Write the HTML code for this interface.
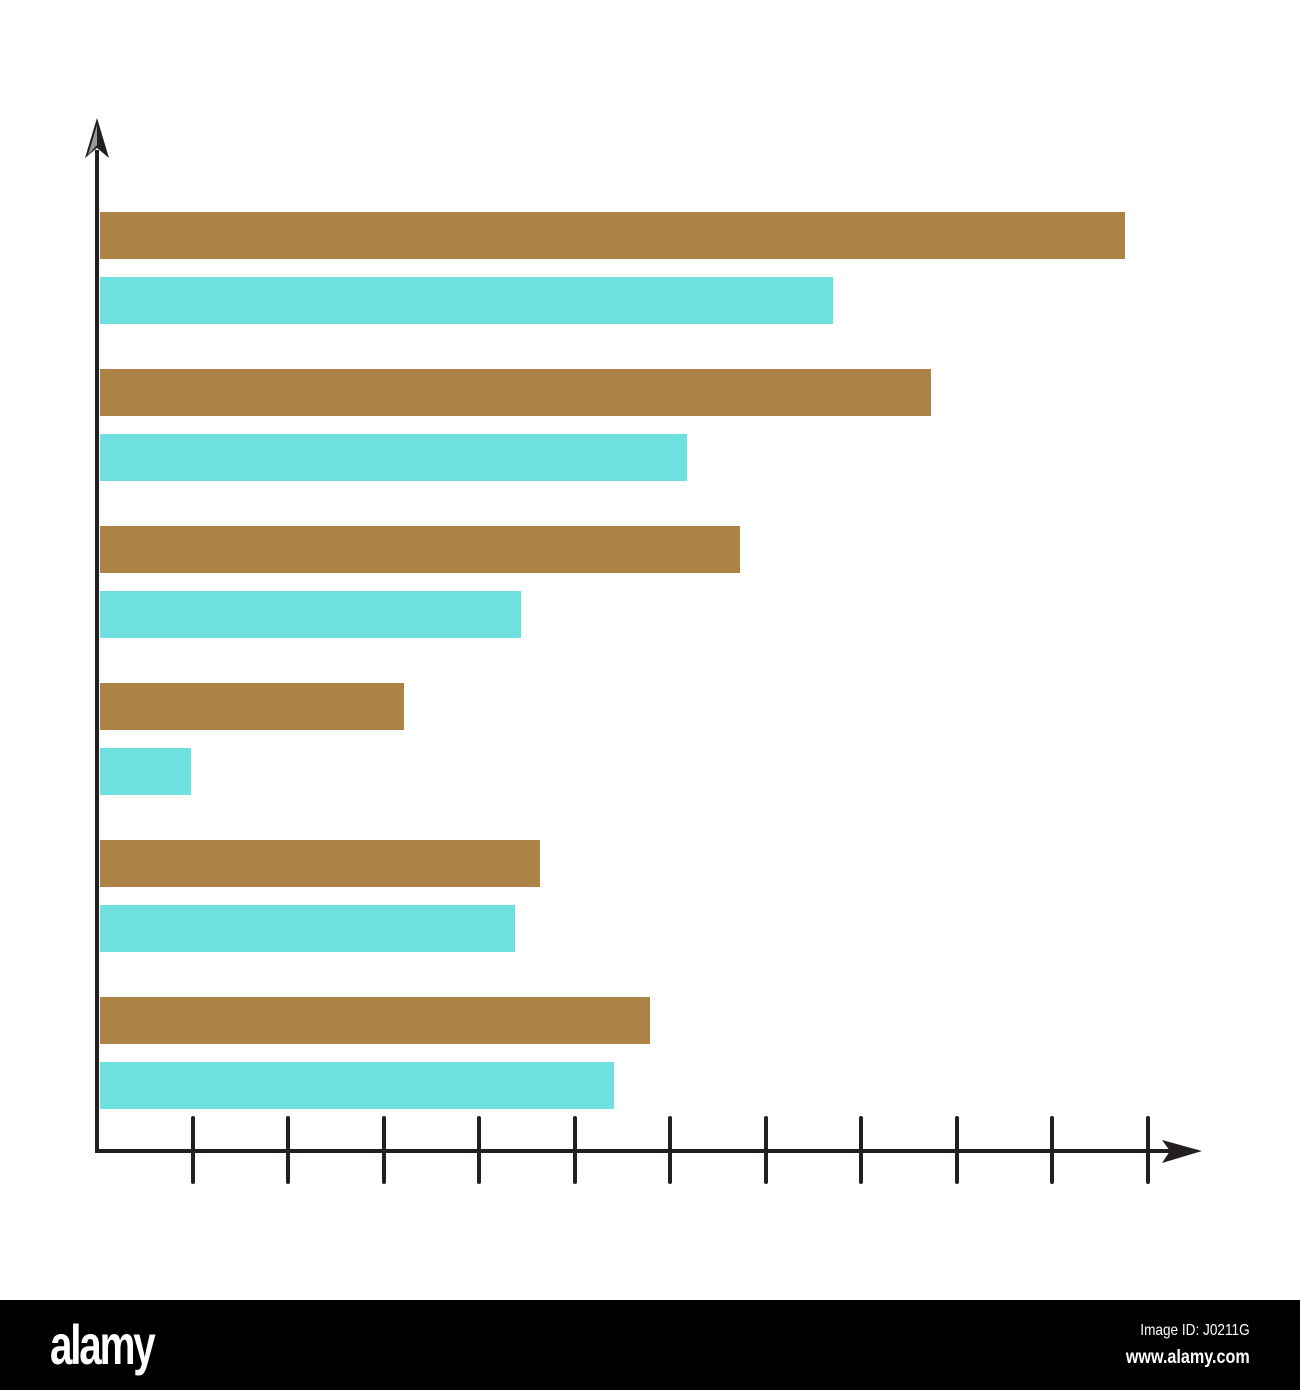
<!DOCTYPE html>
<html><head><meta charset="utf-8"><style>
html,body{margin:0;padding:0;background:#fff;width:1300px;height:1390px;overflow:hidden}
.foot{position:absolute;left:0;top:1300px;width:1300px;height:90px;background:#000;color:#fff;font-family:"Liberation Sans",sans-serif}
</style></head><body>
<svg width="1300" height="1300" style="position:absolute;left:0;top:0">
<g fill="#ad8247">
<rect x="100" y="212" width="1025" height="47"/>
<rect x="100" y="369" width="831" height="47"/>
<rect x="100" y="526" width="640" height="47"/>
<rect x="100" y="683" width="304" height="47"/>
<rect x="100" y="840" width="440" height="47"/>
<rect x="100" y="997" width="550" height="47"/>
</g>
<g fill="#6fe0e0">
<rect x="100" y="277" width="733" height="47"/>
<rect x="100" y="434" width="587" height="47"/>
<rect x="100" y="591" width="421" height="47"/>
<rect x="100" y="748" width="91" height="47"/>
<rect x="100" y="905" width="415" height="47"/>
<rect x="100" y="1062" width="514" height="47"/>
</g>
<g stroke="#231f20" stroke-width="4" fill="none">
<line x1="97" y1="150" x2="97" y2="1152"/>
<line x1="95" y1="1151" x2="1170" y2="1151"/>
<g stroke-linecap="round">
<line x1="193" y1="1118" x2="193" y2="1182"/>
<line x1="288" y1="1118" x2="288" y2="1182"/>
<line x1="384" y1="1118" x2="384" y2="1182"/>
<line x1="479" y1="1118" x2="479" y2="1182"/>
<line x1="575" y1="1118" x2="575" y2="1182"/>
<line x1="670" y1="1118" x2="670" y2="1182"/>
<line x1="766" y1="1118" x2="766" y2="1182"/>
<line x1="861" y1="1118" x2="861" y2="1182"/>
<line x1="957" y1="1118" x2="957" y2="1182"/>
<line x1="1052" y1="1118" x2="1052" y2="1182"/>
<line x1="1148" y1="1118" x2="1148" y2="1182"/>
</g>
</g>
<polygon points="1202,1151 1162,1140 1170,1151 1162,1163" fill="#231f20"/>
<polygon points="97,118 85,158 97,148 109,158" fill="#231f20"/>
<polygon points="97,125 88,155 97,145" fill="#999"/>
</svg>
<div class="foot">
<div style="position:absolute;left:50px;top:12px;font-size:56px;font-weight:bold;letter-spacing:-3px;transform:scaleX(0.72);transform-origin:left">alamy</div>
<div style="position:absolute;right:50px;top:22px;font-size:16px;transform:scaleX(0.85);transform-origin:right">Image ID: J0211G</div>
<div style="position:absolute;right:50px;top:47px;font-size:19px;font-weight:bold;transform:scaleX(0.85);transform-origin:right">www.alamy.com</div>
</div>
</body></html>
